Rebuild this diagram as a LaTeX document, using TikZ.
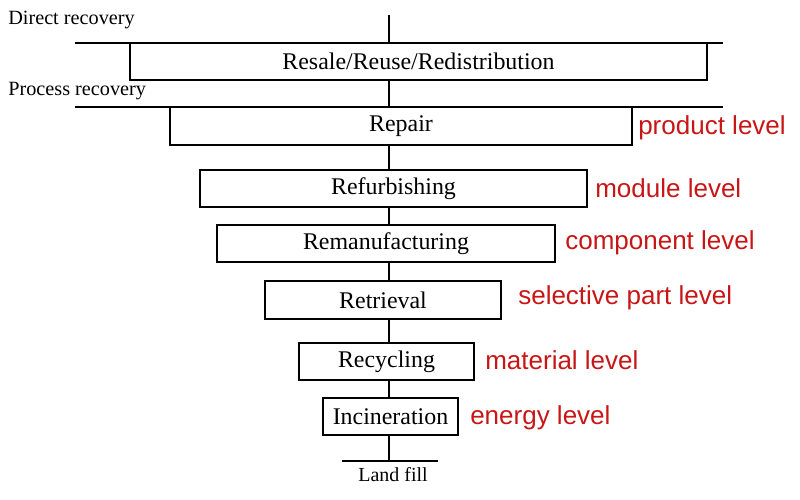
\documentclass[tikz,border=0pt]{standalone}
\usepackage{fontspec}
\setmainfont{Liberation Serif}
\newfontfamily\handfont{Liberation Sans}
\usetikzlibrary{positioning,calc}
\definecolor{pen}{RGB}{200,22,22}
\tikzset{
  stage/.style={draw=black, line width=1.1pt, inner sep=0pt, minimum height=0.93cm, align=center, font=\fontsize{17}{19}\selectfont},
  lvl/.style={anchor=west, text=pen, font=\handfont\fontsize{18.5}{20}\selectfont, inner sep=0pt},
  side/.style={anchor=west, font=\fontsize{14.4}{16}\selectfont, inner sep=0pt},
  rail/.style={line width=0.8pt},
  stem/.style={line width=0.8pt}
}
\begin{document}
\begin{tikzpicture}
\useasboundingbox (0,0) rectangle (20,-12.5);
\coordinate (top) at (9.725,-0.375);
\coordinate (dl) at (1.875,-1.075);
\coordinate (dr) at (18.075,-1.075);
\coordinate (pl) at (1.875,-2.675);
\coordinate (pr) at (18.075,-2.675);
\coordinate (fl) at (8.55,-11.525);
\coordinate (fr) at (10.95,-11.525);
\node[stage, minimum width=14.425cm] (resale) at (10.4625,-1.5375) {Resale/Reuse/Redistribution};
\node[stage, minimum width=11.55cm, minimum height=0.95cm] (repair) at (10.025,-3.15) {Repair};
\node[stage, minimum width=9.675cm] (refurb) at (9.8375,-4.7125) {Refurbishing};
\node[stage, minimum width=8.45cm] (reman) at (9.65,-6.0875) {Remanufacturing};
\node[stage, minimum width=5.9cm, minimum height=0.95cm] (retr) at (9.575,-7.5) {Retrieval};
\node[stage, minimum width=4.375cm] (recyc) at (9.6625,-9.0375) {Recycling};
\node[stage, minimum width=3.375cm] (incin) at (9.7625,-10.4125) {Incineration};
\draw[rail] (dl) -- (dr);
\draw[rail] (pl) -- (pr);
\draw[rail] (fl) -- (fr);
\draw[stem] (top) -- (top |- dl);
\draw[stem] (top |- resale.south) -- (top |- pl);
\draw[stem] (top |- repair.south) -- (top |- refurb.north);
\draw[stem] (top |- refurb.south) -- (top |- reman.north);
\draw[stem] (top |- reman.south) -- (top |- retr.north);
\draw[stem] (top |- retr.south) -- (top |- recyc.north);
\draw[stem] (top |- recyc.south) -- (top |- incin.north);
\draw[stem] (top |- incin.south) -- (top |- fl);
\node[side] (direct) at (0.2,-0.5) {Direct recovery};
\node[side] (process) at (0.2,-2.275) {Process recovery};
\node[font=\fontsize{14.2}{16}\selectfont, inner sep=0pt] (fill) at (9.825,-11.875) {Land fill};
\node[lvl] (prod) at (15.95,-3.2) {product level};
\node[lvl] (mod) at (14.875,-4.7) {module level};
\node[lvl] (comp) at (14.125,-6.075) {component level};
\node[lvl] (part) at (12.95,-7.45) {selective part level};
\node[lvl] (mat) at (12.125,-9.0) {material level};
\node[lvl] (ener) at (11.75,-10.45) {energy level};
\end{tikzpicture}
\end{document}
